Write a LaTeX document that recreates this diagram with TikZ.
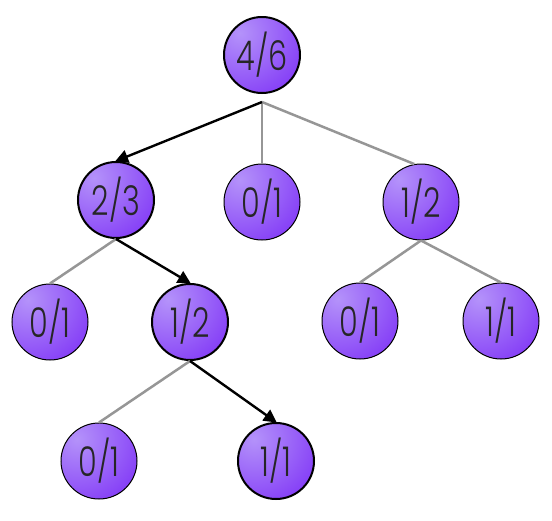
\documentclass[tikz,border=0pt]{standalone}
\usepackage{fontspec}
\newfontfamily\numfont[FakeStretch=0.74]{Poppins Light}
\usetikzlibrary{arrows.meta}
\definecolor{purpmain}{RGB}{126,50,246}
\definecolor{purplight}{RGB}{180,146,250}
\definecolor{edgegray}{RGB}{150,150,150}
\tikzset{
  ball/.style={circle, minimum size=76pt, inner sep=0pt, draw=black, line width=1pt,
    font=\numfont\fontsize{41}{41}\selectfont, text=black!85,
    path picture={\shade[inner color=purplight, outer color=purpmain]
      ([xshift=-22pt,yshift=22pt]path picture bounding box.center) circle (80pt);}},
  onpath/.style={line width=2pt},
  grayedge/.style={draw=edgegray, line width=2.5pt},
  blackedge/.style={draw=black, line width=2.4pt, -{Triangle[length=13pt,width=13pt]}, shorten >=-1pt},
}
\begin{document}
\begin{tikzpicture}[x=1pt,y=-1pt]
\useasboundingbox (0,0) rectangle (552,520);
\node[ball,onpath] (r) at (262,55) {4/6};
\node[ball,onpath] (a) at (116,200) {2/3};
\node[ball] (b) at (262,202) {0/1};
\node[ball] (c) at (421,202) {1/2};
\node[ball] (aa) at (50,322) {0/1};
\node[ball,onpath] (ab) at (190,322) {1/2};
\node[ball] (ca) at (360,321) {0/1};
\node[ball] (cb) at (501,321) {1/1};
\node[ball] (aba) at (99,461) {0/1};
\node[ball,onpath] (abb) at (276,461) {1/1};
\coordinate (rj) at (262,102);
\draw[grayedge] (rj) -- (b.north);
\draw[grayedge] (rj) -- (c.100);
\draw[blackedge] (rj) -- (a.north);
\draw[grayedge] (a.south) -- (aa.north);
\draw[blackedge] (a.south) -- (ab.north);
\draw[grayedge] (ab.south) -- (aba.north);
\draw[blackedge] (ab.south) -- (abb.north);
\draw[grayedge] (c.south) -- (ca.north);
\draw[grayedge] (c.south) -- (cb.north);
\end{tikzpicture}
\end{document}
